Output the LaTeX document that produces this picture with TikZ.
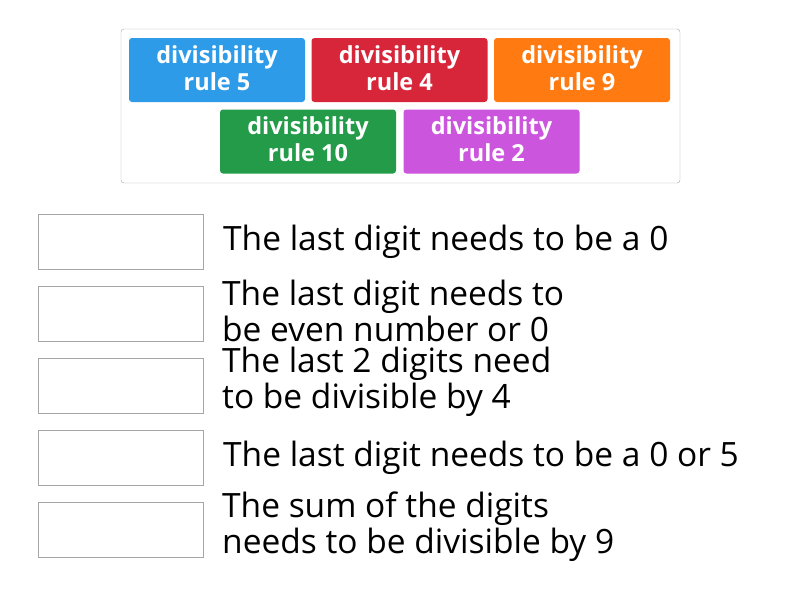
\documentclass[tikz,border=0pt]{standalone}
\usepackage{fontspec}
\setmainfont{Open Sans}
\begin{document}
\begin{tikzpicture}[x=1pt,y=-1pt,
  tile/.style={rounded corners=3pt,minimum width=176pt,minimum height=64pt,inner sep=0pt,text=white,font=\fontsize{23.5}{27}\selectfont\bfseries,align=center},
  ansbox/.style={draw=gray!70,minimum width=165pt,minimum height=55pt,inner sep=0pt,anchor=north west},
  lbl/.style={anchor=west,align=left,font=\fontsize{33.5}{36}\selectfont,inner sep=0pt}]
\useasboundingbox (0,0) rectangle (800,600);
\draw[gray!70,rounded corners=3pt] (121,29) rectangle (680,183);
\definecolor{cb}{HTML}{2D9BE8}\definecolor{cr}{HTML}{D7263A}\definecolor{co}{HTML}{FF7A10}
\definecolor{cg}{HTML}{239B48}\definecolor{cp}{HTML}{CC55DD}
\node[tile,fill=cb] (t1) at (217,70) {};
\node[tile,fill=cr] (t2) at (399.5,70) {};
\node[tile,fill=co] (t3) at (582,70) {};
\node[tile,fill=cg] (t4) at (308,141.5) {};
\node[tile,fill=cp] (t5) at (491.5,141.5) {};
\foreach \t/\s in {t1/5,t2/4,t3/9,t4/10,t5/2}
  \node[tile,minimum height=0pt,text=white] at ([yshift=2pt]\t.center) {divisibility\\rule \s};
\node[ansbox] (b1) at (38,214) {};
\node[ansbox] (b2) at (38,286) {};
\node[ansbox] (b3) at (38,358) {};
\node[ansbox] (b4) at (38,430) {};
\node[ansbox] (b5) at (38,502) {};
\node[lbl] (l1) at (223,241.5) {The last digit needs to be a 0};
\node[lbl] (l2) at (222,311) {The last digit needs to\\be even number or 0};
\node[lbl] (l3) at (222,382) {The last 2 digits need\\to be divisible by 4};
\node[lbl] (l4) at (223,457.5) {The last digit needs to be a 0 or 5};
\node[lbl] (l5) at (222,527) {The sum of the digits\\needs to be divisible by 9};
\end{tikzpicture}
\end{document}
